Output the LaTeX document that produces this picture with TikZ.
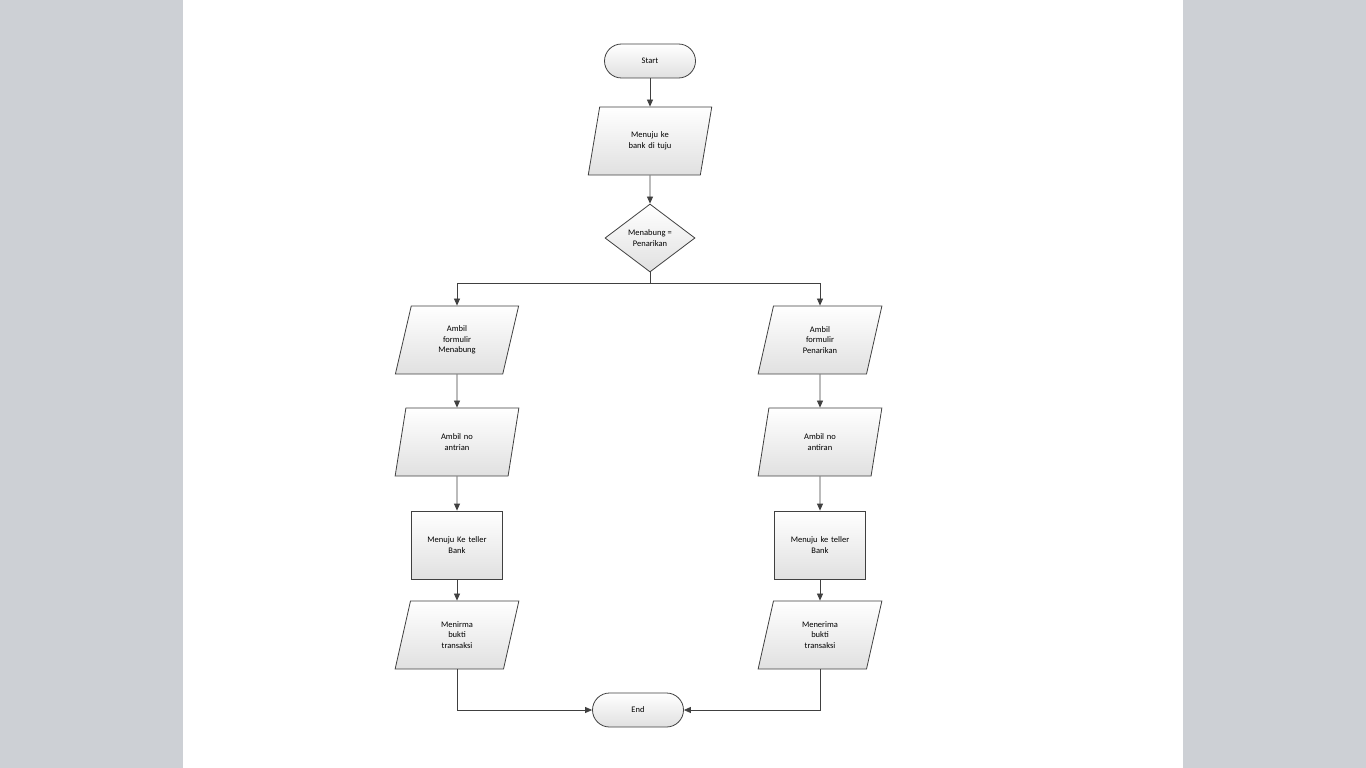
\documentclass[tikz,border=0pt]{standalone}
\usepackage{fontspec}
\setmainfont{Carlito}
\usetikzlibrary{shapes.geometric,arrows.meta}
\definecolor{bg}{HTML}{CDD0D5}
\definecolor{ln}{HTML}{404040}
\tikzset{
 base/.style={draw=ln,line width=0.8pt,top color=white,bottom color=black!12,font=\fontsize{8.5}{10.5}\selectfont,align=center,inner sep=1pt},
 term/.style={base,rounded corners=17pt,minimum width=91pt,minimum height=34pt},
 io/.style={base,trapezium,trapezium left angle=70.5,trapezium right angle=109.5,trapezium stretches=true,minimum width=124pt,minimum height=68pt,text width=60pt},
 proc/.style={base,rectangle,minimum width=91pt,minimum height=68pt,text width=80pt},
 dec/.style={base,diamond,aspect=1.32,minimum width=90pt,minimum height=68pt,inner sep=0pt},
 conn/.style={draw=ln,line width=0.8pt,-{Triangle[length=7pt,width=6pt]}}
}
\begin{document}
\begin{tikzpicture}[x=1pt,y=-1pt]
\fill[bg] (0,0) rectangle (1366,768);
\fill[white] (183,0) rectangle (1183,768);
\useasboundingbox (0,0) rectangle (1366,768);
\node[term] (start) at (650,61) {Start};
\node[io] (bank) at (650,141) {Menuju ke\\bank di tuju};
\node[dec] (d) at (650,238) {Menabung =\\Penarikan};
\node[io] (l1) at (457,340) {Ambil\\formulir\\Menabung};
\node[io] (l2) at (457,442) {Ambil no\\antrian};
\node[proc] (l3) at (457,545) {Menuju Ke teller\\Bank};
\node[io] (l4) at (457,635) {Menirma\\bukti\\transaksi};
\node[io] (r1) at (820,340) {Ambil\\formulir\\Penarikan};
\node[io] (r2) at (820,442) {Ambil no\\antiran};
\node[proc] (r3) at (820,545) {Menuju ke teller\\Bank};
\node[io] (r4) at (820,635) {Menerima\\bukti\\transaksi};
\node[term] (end) at (638,710) {End};
\coordinate (j) at (650,283);
\draw[conn] (start) -- (bank);
\draw[conn] (bank) -- (d);
\draw[draw=ln,line width=0.8pt] (d.south) -- (j);
\draw[conn] (j) -| (l1.north);
\draw[conn] (j) -| (r1.north);
\draw[conn] (l1) -- (l2);
\draw[conn] (l2) -- (l3);
\draw[conn] (l3) -- (l4);
\draw[conn] (r1) -- (r2);
\draw[conn] (r2) -- (r3);
\draw[conn] (r3) -- (r4);
\draw[conn] (l4.south) |- (end.west);
\draw[conn] (r4.south) |- (end.east);
\end{tikzpicture}
\end{document}
